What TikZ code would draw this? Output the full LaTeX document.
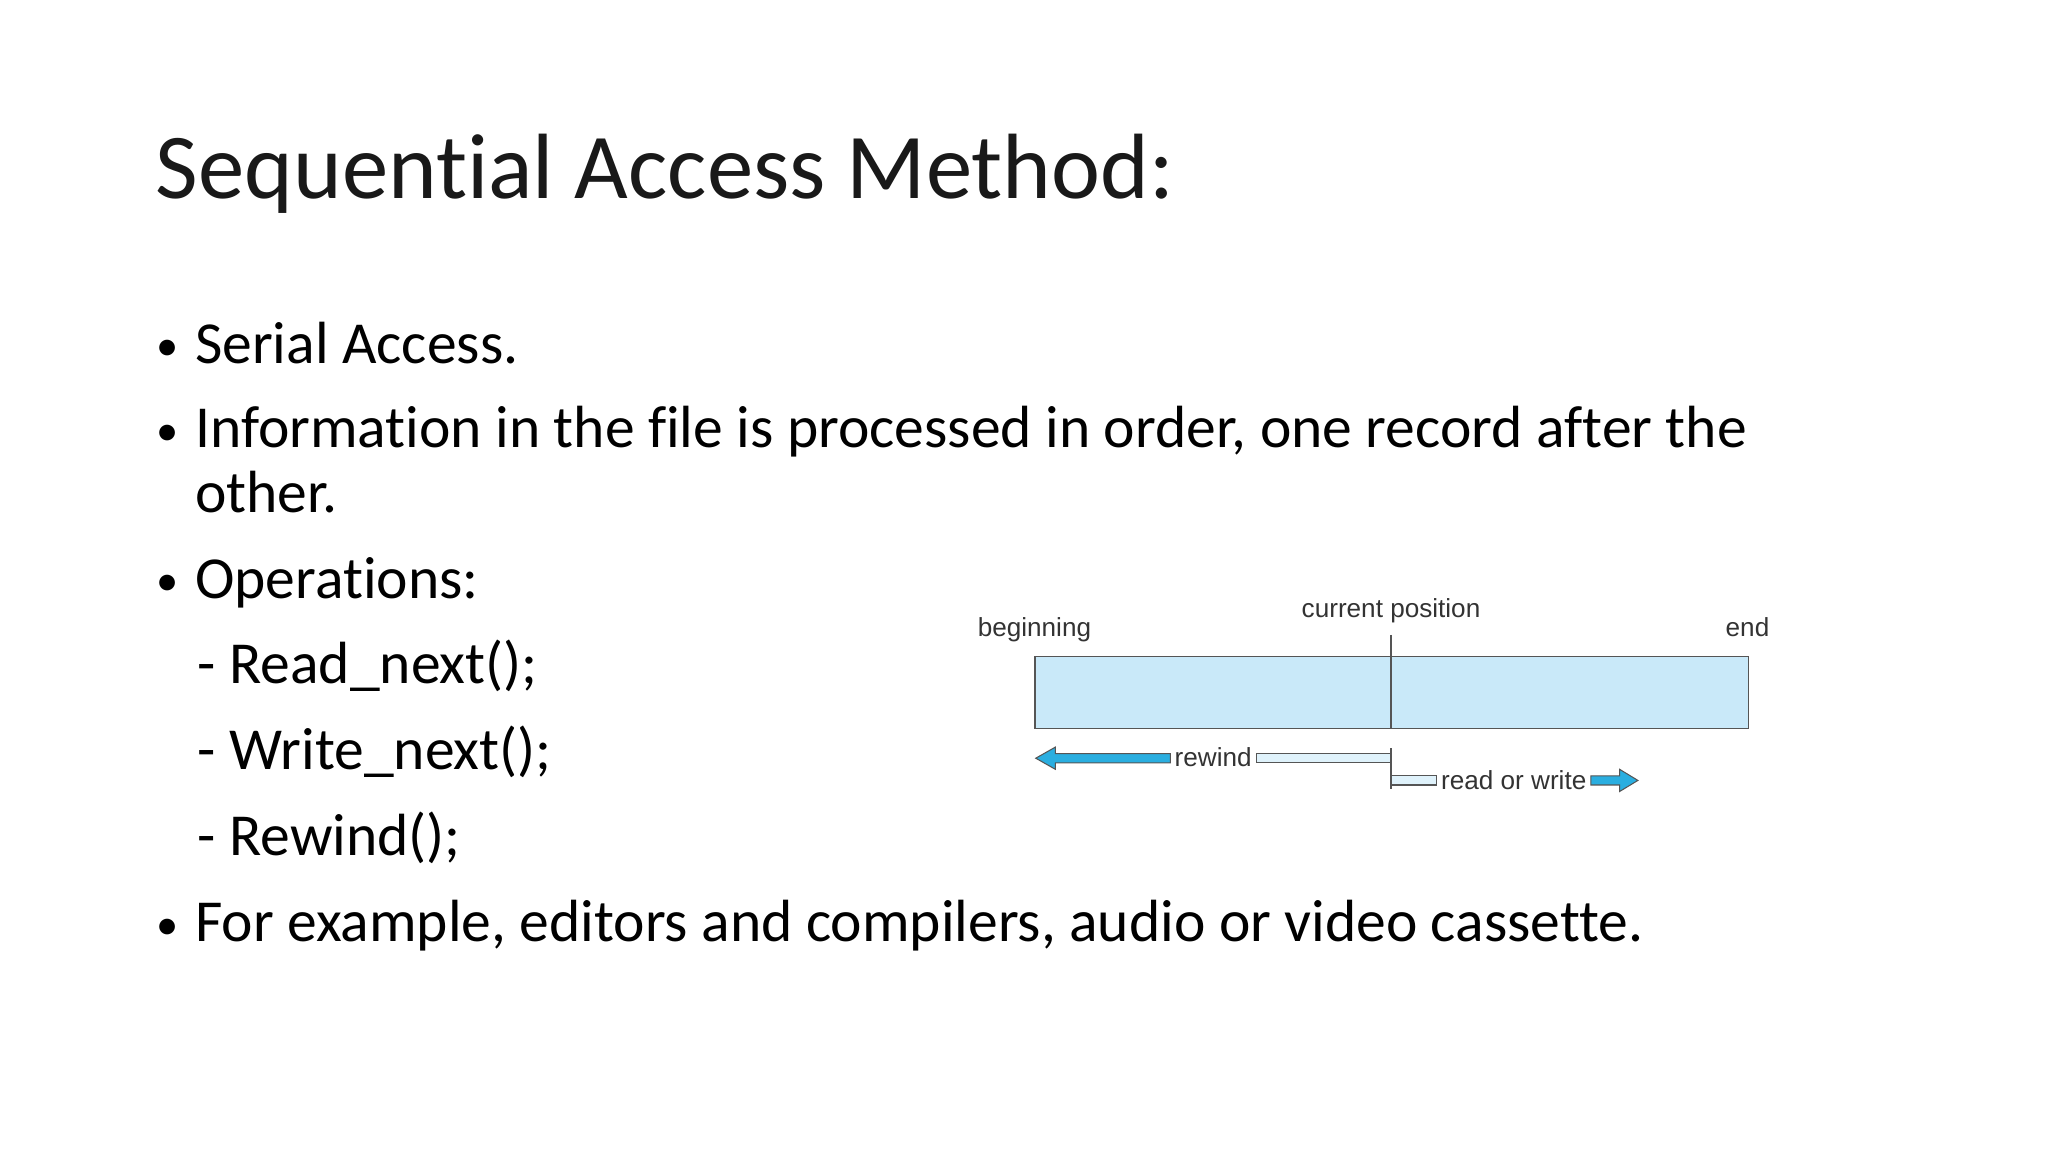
\documentclass[tikz,border=0pt]{standalone}
\usepackage{fontspec}
\setmainfont[RawFeature=-liga]{Carlito}
\newfontfamily\diagfont{Liberation Sans}
\definecolor{boxblue}{HTML}{C9E9F9}
\definecolor{arrblue}{HTML}{2AAEE0}
\definecolor{tline}{HTML}{555555}
\tikzset{
  body/.style={anchor=base west,inner sep=0pt,font=\fontsize{22.8}{27}\selectfont},
  lbl/.style={inner sep=0pt,font=\diagfont\fontsize{10}{12}\selectfont,text=black!80},
  dbl/.style={draw=tline,line width=0.5pt,fill=boxblue!60},
  barrow/.style={draw=tline,line width=0.4pt,fill=arrblue}
}
\begin{document}
\begin{tikzpicture}[x=0.5pt,y=-0.5pt]
\useasboundingbox (0,0) rectangle (1568,882);
\fill[white] (0,0) rectangle (1568,882);
\node[anchor=base west,inner sep=0pt,font=\fontsize{35.5}{40}\selectfont,text=black!90] (title) at (119,152) {Sequential Access Method:};
\foreach \y/\t [count=\i] in {278/Serial Access., 343/Information in the file is processed in order{,} one record after the, 458/Operations:, 721/For example{,} editors and compilers{,} audio or video cassette.}{
  \node[body] (b\i) at (149,\y) {\t};
  \node[anchor=base,inner sep=0pt,font=\fontsize{17}{20}\selectfont] (d\i) at (128,\y-2) {•};
}
\node[body] (b2b) at (149,392) {other.};
\node[body] (o1) at (151,523) {- Read\_next();};
\node[body] (o2) at (151,589) {- Write\_next();};
\node[body] (o3) at (151,655) {- Rewind();};
% diagram
\node[draw=tline,fill=boxblue,line width=0.6pt,minimum width=273pt,minimum height=27.5pt,inner sep=0pt,anchor=north west] (file) at (792,502) {};
\coordinate (cur) at (1065,486);
\draw[tline,line width=0.6pt] (cur) -- (cur |- file.south);
\node[lbl,anchor=base] (beg) at (792,487) {beginning};
\node[lbl,anchor=base east] (endl) at (1355,487) {end};
\node[lbl,anchor=base] (cp) at (1065,473) {current position};
% rewind
\node[lbl,anchor=west] (rw) at (899,580) {rewind};
\coordinate (tick) at (1065,573);
\draw[tline,line width=0.6pt] (tick) -- (1065,604);
\draw[dbl] (962,577) rectangle (1065,584);
\draw[barrow] (896,577) -- (808,577) -- (808,572) -- (793,580.5) -- (808,589) -- (808,584) -- (896,584) -- cycle;
% read or write
\draw[dbl] (1065,594) rectangle (1100,601);
\node[lbl,anchor=west] (rwt) at (1103,597) {read or write};
\draw[barrow] (1218,594) -- (1240,594) -- (1240,589) -- (1254,597.5) -- (1240,606) -- (1240,601) -- (1218,601) -- cycle;
\end{tikzpicture}
\end{document}
